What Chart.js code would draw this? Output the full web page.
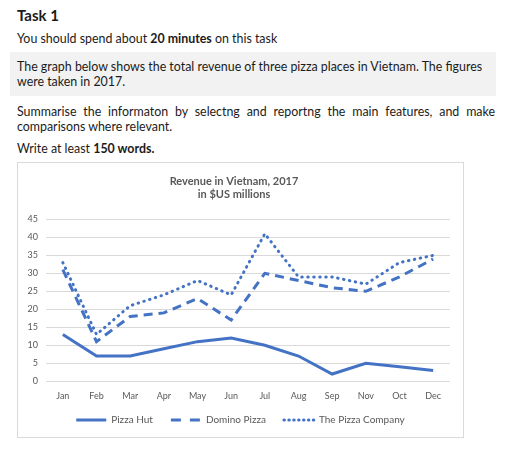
<!DOCTYPE html>
<html>
<head>
<meta charset="utf-8">
<script src="https://cdn.jsdelivr.net/npm/chart.js@4"></script>
<style>
    body { margin: 0; background: #fff; font-family: Lato, "Open Sans", sans-serif; color: #1b1b1b; }
    .page { position: relative; width: 512px; height: 452px; overflow: hidden; }
    .t { position: absolute; left: 17px; font-size: 12.4px; line-height: 15px; white-space: nowrap; }
    .task { top: 6px; font-size: 15px; font-weight: bold; line-height: 18px; }
    .brief { position: absolute; left: 10px; top: 52px; width: 472px; height: 44px; background: #f2f2f2; padding: 0 7px; font-size: 12.4px; line-height: 15px; }
    .brief div { padding-top: 7px; }
    .summ { top: 104px; width: 478px; white-space: normal; text-align: justify; }
    .chartBox { position: absolute; left: 17px; top: 162px; width: 445px; height: 274px; border: 1px solid #d9d9d9; }
    canvas { display: block; }
</style>
</head>
<body>
<div class="page">
    <div class="t task">Task 1</div>
    <div class="t" style="top:31px">You should spend about <b>20 minutes</b> on this task</div>
    <div class="brief"><div>The graph below shows the total revenue of three pizza places in Vietnam. The figures were taken in 2017.</div></div>
    <div class="t summ">Summarise the informaton by selectng and reportng the main features, and make comparisons where relevant.</div>
    <div class="t" style="top:141px">Write at least <b>150 words.</b></div>
    <div class="chartBox"><canvas id="chart" width="445" height="274"></canvas></div>
</div>
<script>
// Chart data
const months = ['Jan', 'Feb', 'Mar', 'Apr', 'May', 'Jun', 'Jul', 'Aug', 'Sep', 'Nov', 'Oct', 'Dec'];
const pizzaHut = [13, 7, 7, 9, 11, 12, 10, 7, 2, 5, 4, 3];
const dominoPizza = [31, 11, 18, 19, 23, 17, 30, 28, 26, 25, 29, 34];
const pizzaCompany = [33, 13, 21, 24, 28, 24, 41, 29, 29, 27, 33, 35];
const seriesNames = ['Pizza Hut', 'Domino Pizza', 'The Pizza Company'];
const yMax = 45;
const yStep = 5;

const blue = '#4472c4';
const grey = '#595959';
const fontFamily = 'Lato, "Open Sans", sans-serif';

Chart.defaults.font.family = fontFamily;
Chart.defaults.color = grey;

// Legend drawn by hand so the line samples keep their dash patterns
const legendDash = [[], [10, 9], [0.5, 4.4]];
const bottomLegend = {
    id: 'bottomLegend',
    afterDraw(chart) {
        const c = chart.ctx;
        const sample = 30, gapText = 5, gapItem = 18;
        c.save();
        c.font = '10px ' + fontFamily;
        const widths = seriesNames.map(n => c.measureText(n).width);
        let total = 0;
        widths.forEach(w => { total += sample + gapText + w; });
        total += gapItem * (seriesNames.length - 1);
        let x = (chart.width - total) / 2;
        const y = 257;
        seriesNames.forEach((name, i) => {
            c.beginPath();
            c.strokeStyle = blue;
            c.lineWidth = 3;
            c.lineCap = i === 2 ? 'round' : 'butt';
            c.setLineDash(legendDash[i]);
            c.moveTo(x, y);
            c.lineTo(x + sample, y);
            c.stroke();
            c.setLineDash([]);
            c.fillStyle = grey;
            c.textBaseline = 'middle';
            c.fillText(name, x + sample + gapText, y);
            x += sample + gapText + widths[i] + gapItem;
        });
        c.restore();
    }
};

const ctx = document.getElementById('chart').getContext('2d');
new Chart(ctx, {
    type: 'line',
    data: {
        labels: months,
        datasets: [
            {
                label: seriesNames[0],
                data: pizzaHut,
                borderColor: blue,
                borderWidth: 3,
                pointRadius: 0
            },
            {
                label: seriesNames[1],
                data: dominoPizza,
                borderColor: blue,
                borderWidth: 3,
                borderDash: [9, 6],
                pointRadius: 0
            },
            {
                label: seriesNames[2],
                data: pizzaCompany,
                borderColor: blue,
                borderWidth: 3,
                borderDash: [0.5, 5.5],
                borderCapStyle: 'round',
                pointRadius: 0
            }
        ]
    },
    options: {
        responsive: false,
        animation: false,
        layout: {
            padding: { top: 12, right: 13, left: 0, bottom: 27 }
        },
        scales: {
            x: {
                offset: true,
                grid: { display: false, drawTicks: false },
                border: { display: false },
                ticks: { padding: 9, font: { size: 9 }, color: grey }
            },
            y: {
                min: 0,
                max: yMax,
                grid: { color: '#d9d9d9', drawTicks: false },
                border: { display: false },
                ticks: { stepSize: yStep, padding: 8, font: { size: 9 }, color: grey },
                afterFit: (scale) => { scale.width = 28; }
            }
        },
        plugins: {
            title: {
                display: true,
                text: ['Revenue in Vietnam, 2017', 'in $US millions'],
                font: { size: 11, weight: 'bold' },
                color: grey,
                padding: { top: 0, bottom: 18 }
            },
            legend: { display: false },
            tooltip: { enabled: false }
        }
    },
    plugins: [bottomLegend]
});
</script>
</body>
</html>
